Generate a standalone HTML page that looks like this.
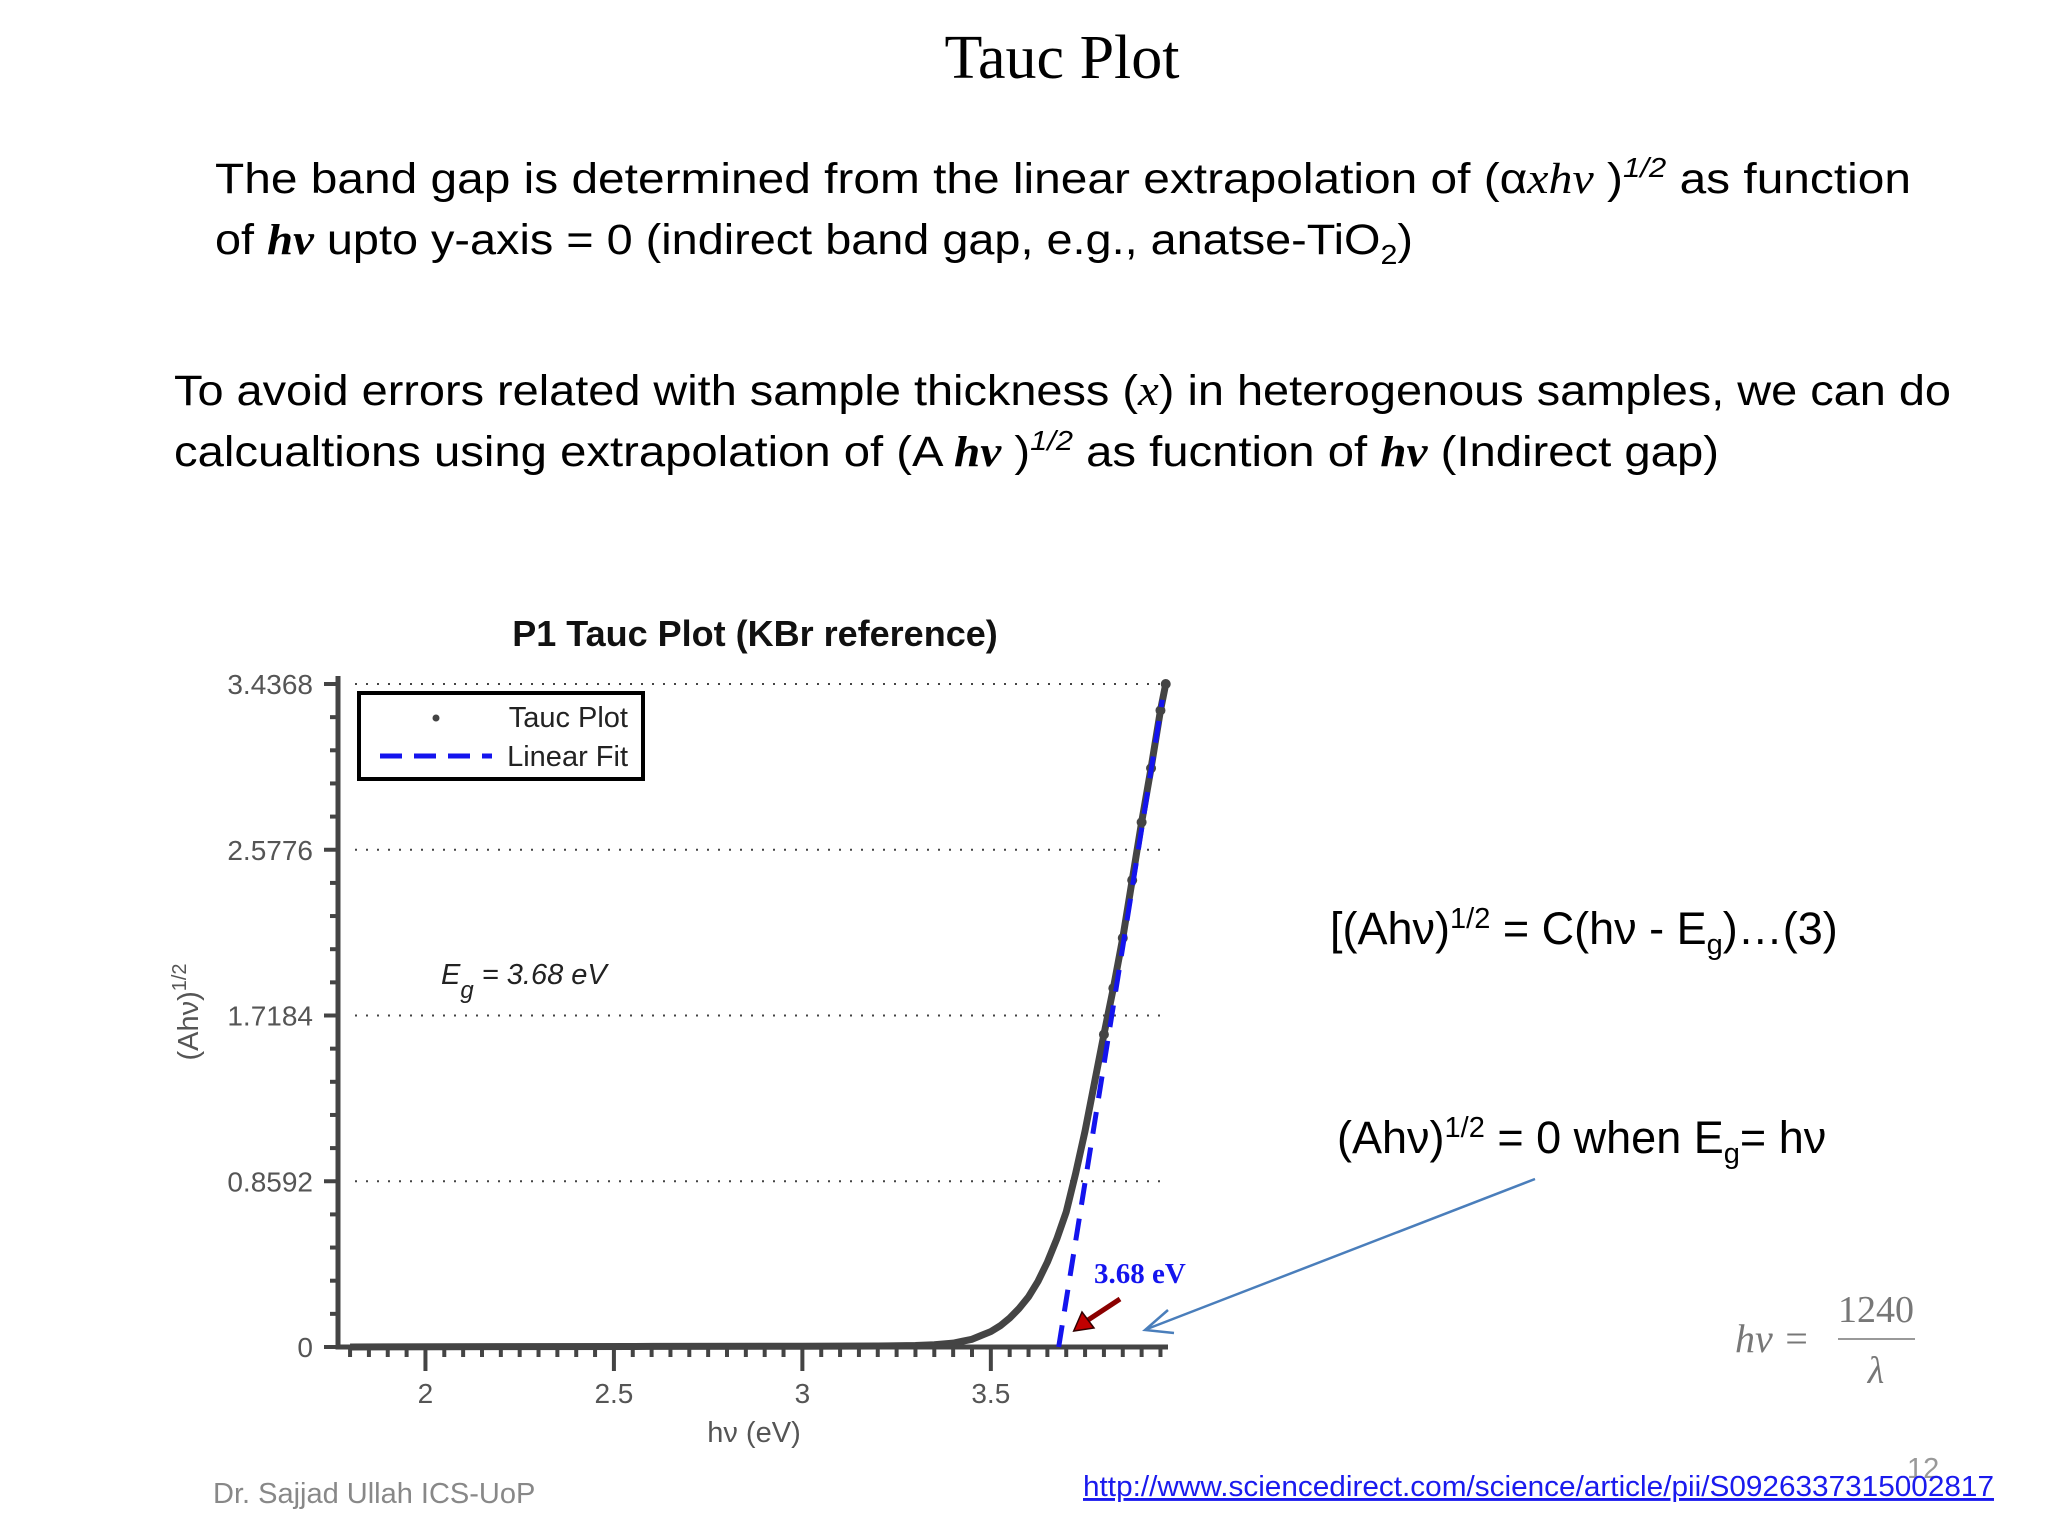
<!DOCTYPE html>
<html><head><meta charset="utf-8"><style>
html,body{margin:0;padding:0;background:#fff;}
svg{display:block;}
.cal{font-family:"Liberation Sans",sans-serif;}
</style></head><body>
<svg id="slide" width="2048" height="1536" viewBox="0 0 2048 1536" xmlns="http://www.w3.org/2000/svg" xml:space="preserve">
<text x="1062" y="78" text-anchor="middle" font-family="Liberation Serif,serif" font-size="62" fill="#000">Tauc Plot</text>
<text class="cal" x="215" y="193" font-size="43" textLength="1696" lengthAdjust="spacingAndGlyphs">The band gap is determined from the linear extrapolation of (α<tspan font-style="italic" font-family="Liberation Serif,serif">xhν</tspan> )<tspan font-size="28" dy="-16" font-style="italic">1/2</tspan><tspan dy="16"> as function</tspan></text>
<text class="cal" x="215" y="254" font-size="43" textLength="1198" lengthAdjust="spacingAndGlyphs">of <tspan font-style="italic" font-weight="bold" font-family="Liberation Serif,serif">hν</tspan> upto y-axis = 0 (indirect band gap,  e.g., anatse-TiO<tspan font-size="28" dy="10">2</tspan><tspan dy="-10">)</tspan></text>
<text class="cal" x="174" y="405" font-size="43" textLength="1777" lengthAdjust="spacingAndGlyphs">To avoid errors related with sample thickness (<tspan font-style="italic" font-family="Liberation Serif,serif">x</tspan>) in heterogenous samples, we can do</text>
<text class="cal" x="174" y="466" font-size="43" textLength="1545" lengthAdjust="spacingAndGlyphs">calcualtions using extrapolation of (A <tspan font-style="italic" font-weight="bold" font-family="Liberation Serif,serif">hν</tspan> )<tspan font-size="28" dy="-16" font-style="italic">1/2</tspan><tspan dy="16"> as fucntion of </tspan><tspan font-style="italic" font-weight="bold" font-family="Liberation Serif,serif">hν</tspan> (Indirect gap)</text>

<g id="chart"></g>

<text class="cal" x="1330" y="944" font-size="45">[(Ahν)<tspan font-size="29" dy="-16">1/2</tspan><tspan dy="16"> = C(hν - E</tspan><tspan font-size="29" dy="10">g</tspan><tspan dy="-10">)…(3)</tspan></text>
<text class="cal" x="1337" y="1153" font-size="45">(Ahν)<tspan font-size="29" dy="-16">1/2</tspan><tspan dy="16"> = 0  when  E</tspan><tspan font-size="29" dy="10">g</tspan><tspan dy="-10">= hν</tspan></text>
<line x1="1535" y1="1179" x2="1147" y2="1329" stroke="#4a7ebb" stroke-width="2.5"/>
<polyline points="1168,1310 1145,1330 1174,1333" fill="none" stroke="#4a7ebb" stroke-width="2.5"/>
<g fill="#777" font-family="Liberation Serif,serif">
<text x="1735" y="1352" font-size="40" font-style="italic">hν =</text>
<text x="1876" y="1322" font-size="38" text-anchor="middle">1240</text>
<line x1="1838" y1="1339" x2="1915" y2="1339" stroke="#999" stroke-width="2"/>
<text x="1876" y="1383" font-size="38" text-anchor="middle" font-style="italic">λ</text>
</g>
<text class="cal" x="213" y="1503" font-size="29" fill="#888">Dr. Sajjad Ullah ICS-UoP</text>
<text class="cal" x="1907" y="1478" font-size="29" fill="#999">12</text>
<text class="cal" x="1083" y="1496" font-size="29" fill="#1a1aee" text-decoration="underline" textLength="911" lengthAdjust="spacingAndGlyphs">http://www.sciencedirect.com/science/article/pii/S0926337315002817</text>
</svg>
<script>
const xValues=[1.8,2.2,2.6,3.0,3.2,3.3,3.35,3.4,3.425,3.45,3.475,3.5,3.525,3.55,3.575,3.6,3.625,3.65,3.675,3.7,3.725,3.75,3.775,3.8,3.825,3.85,3.875,3.9,3.925,3.95,3.964];
const yValues=[0,0.002,0.003,0.004,0.005,0.008,0.012,0.02,0.03,0.04,0.06,0.08,0.11,0.15,0.2,0.26,0.34,0.44,0.56,0.7,0.9,1.12,1.37,1.62,1.86,2.12,2.42,2.72,3.0,3.3,3.4368];
const fitX=[3.68,3.955];
const fitSlope=12.2;
const yTicks=[0,0.8592,1.7184,2.5776,3.4368];
const yTickLabels=["0","0.8592","1.7184","2.5776","3.4368"];
const xTicks=[2,2.5,3,3.5];
const xTickLabels=["2","2.5","3","3.5"];
const bandGap=3.68;

const NS="http://www.w3.org/2000/svg";
const g=document.getElementById('chart');
const X0=338,X1=1168,Y0=1347,Y1=684;
const xMin=1.768,xMax=3.97,yMax=3.4368;
const sx=v=>X0+(v-xMin)/(xMax-xMin)*(X1-X0);
const sy=v=>Y0-v/yMax*(Y0-Y1);
function mk(tag,attrs,parent){const e=document.createElementNS(NS,tag);for(const k in attrs)e.setAttribute(k,attrs[k]);(parent||g).appendChild(e);return e;}

let t=mk('text',{x:755,y:646,'text-anchor':'middle','font-family':'Liberation Sans,sans-serif','font-size':36,'font-weight':'bold',fill:'#111'});


t.textContent='P1 Tauc Plot (KBr reference)';

yTicks.forEach((v,i)=>{
  if(i>0){const l=mk('line',{x1:355,x2:1169,y1:sy(v),y2:sy(v),stroke:'#444','stroke-width':2,'stroke-dasharray':'2,9'});
  
  }
  const tl=mk('text',{x:313,y:sy(v)+10,'text-anchor':'end','font-family':'Liberation Sans,sans-serif','font-size':28,fill:'#555'});
  
  
  tl.textContent=yTickLabels[i];
});
for(let k=0;k<=20;k++){
  const v=yMax*k/20,major=k%5===0;
  const l=mk('line',{x1:major?324:330,x2:338,y1:sy(v),y2:sy(v),stroke:'#444','stroke-width':4});
  
  
}
for(let k=0;k<=43;k++){
  const v=1.8+k*0.05;const major=Math.abs((v*2)-Math.round(v*2))<1e-6;
  const l=mk('line',{x1:sx(v),x2:sx(v),y1:Y0,y2:Y0+(major?24:10),stroke:'#444','stroke-width':4});
  
  
}
xTicks.forEach((v,i)=>{
  const tl=mk('text',{x:sx(v),y:1403,'text-anchor':'middle','font-family':'Liberation Sans,sans-serif','font-size':28,fill:'#555'});
  
  
  tl.textContent=xTickLabels[i];
});
let ax=mk('path',{d:`M${X0},${Y1-8}V${Y0}H${X1}`,fill:'none',stroke:'#444','stroke-width':5});


t=mk('text',{x:754,y:1442,'text-anchor':'middle','font-family':'Liberation Sans,sans-serif','font-size':29,fill:'#555'});


t.textContent='hν (eV)';
t=mk('text',{x:0,y:0,'text-anchor':'middle','font-family':'Liberation Sans,sans-serif','font-size':29,fill:'#555',transform:'translate(198,1012) rotate(-90)'});


t.innerHTML='(Ahν)<tspan font-size="20" dy="-12">1/2</tspan>';

let d='';xValues.forEach((v,i)=>{d+=(i?'L':'M')+sx(v)+','+sy(yValues[i]);});
const curve=mk('path',{d:d,fill:'none',stroke:'#444','stroke-width':7,'stroke-linejoin':'round'});


xValues.forEach((v,i)=>{if(yValues[i]>1.5){const c=mk('circle',{cx:sx(v),cy:sy(yValues[i]),r:5,fill:'#444'});

}});
const fit=mk('line',{x1:sx(fitX[0]),y1:sy(0),x2:sx(fitX[1]),y2:sy((fitX[1]-fitX[0])*fitSlope),stroke:'#1414ee','stroke-width':5,'stroke-dasharray':'22,14'});



const lg=mk('g',{});


mk('rect',{x:359,y:693,width:284,height:86,fill:'#fff',stroke:'#000','stroke-width':4},lg);
mk('circle',{cx:436,cy:718,r:3.5,fill:'#444'},lg);
mk('line',{x1:380,x2:492,y1:756,y2:756,stroke:'#1414ee','stroke-width':5,'stroke-dasharray':'22,12'},lg);
t=mk('text',{x:628,y:727,'text-anchor':'end','font-family':'Liberation Sans,sans-serif','font-size':29,fill:'#222'},lg);t.textContent='Tauc Plot';
t=mk('text',{x:628,y:766,'text-anchor':'end','font-family':'Liberation Sans,sans-serif','font-size':29,fill:'#222'},lg);t.textContent='Linear Fit';

t=mk('text',{x:441,y:984,'font-family':'Liberation Sans,sans-serif','font-size':29,'font-style':'italic',fill:'#222'});


t.innerHTML='E<tspan font-size="24" dy="14">g</tspan><tspan dy="-14"> = '+bandGap.toFixed(2)+' eV</tspan>';
t=mk('text',{x:1094,y:1283,'font-family':'Liberation Serif,serif','font-size':29,'font-weight':'bold',fill:'#1414ee'});


t.textContent=bandGap.toFixed(2)+' eV';
const ar=mk('g',{});


mk('line',{x1:1120,y1:1299,x2:1085,y2:1322,stroke:'#8b0000','stroke-width':5},ar);
mk('polygon',{points:`${sx(bandGap)+15},1331 1082,1312 1094,1328`,fill:'#c00000',stroke:'#300','stroke-width':1.5},ar);
</script>
</body></html>
